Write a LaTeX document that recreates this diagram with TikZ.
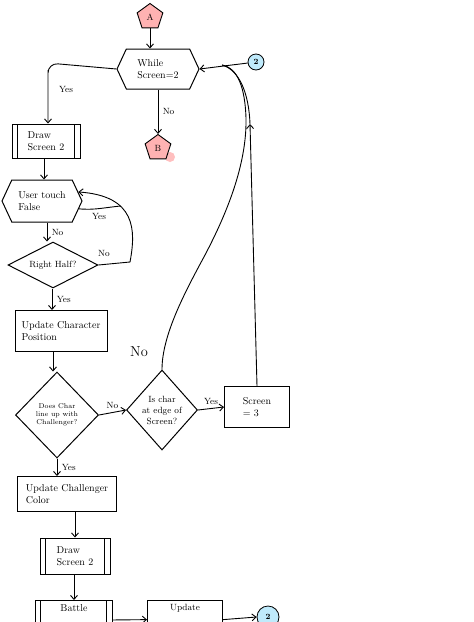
\documentclass[tikz,border=0pt]{standalone}
\usetikzlibrary{arrows.meta, shapes.geometric, shapes.symbols, positioning}

\begin{document}
\begin{tikzpicture}[
    x=1pt, y=-1pt,
    proc/.style={
        rectangle, draw, line width=1pt,
        font=\normalsize, align=left, inner sep=2pt
    },
    predef/.style={
        proc,
        path picture={
            \draw[line width=0.9pt] ([xshift=5pt]path picture bounding box.north west) -- ([xshift=5pt]path picture bounding box.south west);
            \draw[line width=0.9pt] ([xshift=-6pt]path picture bounding box.north east) -- ([xshift=-6pt]path picture bounding box.south east);
        }
    },
    hexa/.style={
        signal, signal to=east and west, signal pointer angle=130,
        draw, line width=1pt, font=\normalsize, align=left, inner sep=1pt
    },
    decide/.style={
        diamond, draw, line width=1pt,
        font=\normalsize, align=center, inner sep=0pt, aspect=1
    },
    onpage/.style={
        regular polygon, regular polygon sides=5, minimum size=27pt,
        draw, line width=0.9pt, fill=red!30, font=\small, inner sep=0pt
    },
    offpage/.style={
        circle, draw, line width=0.8pt, fill=cyan!25,
        font=\footnotesize\bfseries, inner sep=0pt
    },
    lbl/.style={font=\small},
    arr/.style={
        -{Straight Barb[length=4pt,width=7pt]},
        line width=0.9pt
    },
    wire/.style={line width=0.9pt},
]

\clip (0,0) rectangle (474,622);
\fill[white] (0,0) rectangle (474,622);

% top: loop head
\node[onpage] (A) at (150,17) {A};
\node[hexa, minimum width=82pt, minimum height=40pt] (while) at (158,69) {While\\Screen=2};
\fill[red!25] (170,157) circle (5pt);
\node[onpage] (B) at (158,148) {B};
\node[offpage, minimum size=16pt] (back2) at (256,62) {2};
\coordinate (merge) at (222,65);

\draw[arr] (A.south) -- (A.south |- while.north);
\draw[arr] (while.south -| B.north) -- (B.north) node[lbl, midway, right=1pt] {No};
\draw[arr] (back2) -- (while.east);

% left column
\node[predef, minimum width=68pt, minimum height=34pt] (draw1) at (46,141) {Draw\\Screen 2};
\node[hexa, minimum width=80pt, minimum height=42pt] (touch) at (42,201) {User touch\\False};
\node[decide, aspect=2.2, minimum width=90pt, minimum height=46pt, font=\small] (half) at (53,265) {Right Half?};
\node[proc, minimum width=92pt, minimum height=41pt] (movechar) at (61,331) {Update Character\\Position};
\node[decide, minimum width=83pt, minimum height=86pt, font=\scriptsize] (lineup) at (57,415) {Does Char\\line up with\\Challenger?};
\node[proc, minimum width=99pt, minimum height=35pt] (recolor) at (67,494) {Update Challenger\\Color};
\node[predef, minimum width=70pt, minimum height=36pt] (draw2) at (75,556) {Draw\\Screen 2};
\node[predef, anchor=north, minimum width=77pt, text depth=24pt, inner ysep=4pt] (battle) at (74,600) {Battle};
\node[proc, anchor=north, minimum width=75pt, text depth=24pt, inner ysep=4pt, font=\small] (update) at (185,600) {Update};
\node[offpage, minimum size=22pt] (next2) at (268,617) {2};

% right side
\node[decide, minimum width=71pt, minimum height=80pt, font=\small] (edge) at (162,410) {Is char\\at edge of\\Screen?};
\node[proc, minimum width=65pt, minimum height=41pt] (screen3) at (257,407) {Screen\\= 3};

\draw[arr, rounded corners=10pt] (while.west) -- (48,63) -- (48,80) -- (draw1.north -| 48,0);
\node[lbl] at (66,89) {Yes};

\draw[arr] (draw1.south -| 44,0) -- (touch.north -| 44,0);
\draw[arr] (touch.south -| 47,0) -- (half.north -| 47,0) node[lbl, midway, right=1pt] {No};
\coordinate (loopjoin) at (121,206);
\draw[wire] (touch.-12) to[out=-5,in=185] (loopjoin);
\node[lbl] at (99,216) {Yes};
\draw[arr] (half.east) -- (130,262) .. controls (136,230) and (136,196) .. (touch.14);
\node[lbl] at (104,253) {No};

\draw[arr] (half.south -| 52,0) -- (movechar.north -| 52,0) node[lbl, midway, right=1pt] {Yes};
\draw[arr] (movechar.south -| 53,0) -- (lineup.north -| 53,0);
\draw[arr] (lineup.east) -- (edge.west) node[lbl, midway, above=0pt] {No};
\draw[arr] (edge.east) -- (screen3.west) node[lbl, midway, above=0pt] {Yes};
\draw[arr] (lineup.south) -- (recolor.north -| lineup.south) node[lbl, midway, right=1pt] {Yes};
\draw[arr] (recolor.south -| draw2.north) -- (draw2.north);
\draw[arr] (draw2.south -| battle.north) -- (battle.north);
\draw[arr] (battle.east) -- (update.west);
\draw[arr] (update.east) -- (next2.west);

% back to the loop head
\draw[wire] (edge.north) .. controls (162,335) and (185,292) .. (205,255) .. controls (226,215) and (247,165) .. (246,118) .. controls (245,88) and (238,68) .. (merge);
\node[font=\Large] at (139,352) {No};
\draw[arr] (screen3.north) -- (250,124);
\draw[wire] (250,124) .. controls (249,95) and (240,70) .. (merge);

\end{tikzpicture}
\end{document}
